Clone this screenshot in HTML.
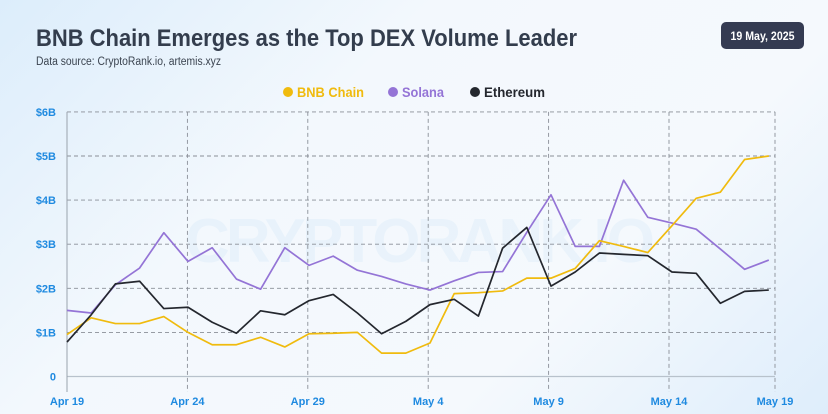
<!DOCTYPE html>
<html><head><meta charset="utf-8"><style>
html,body{margin:0;padding:0;width:828px;height:414px;overflow:hidden;font-family:"Liberation Sans",sans-serif;}
body{background:linear-gradient(135deg,#dcedfb 0%,#f3f8fd 35%,#f5f9fd 70%,#deedfb 100%);}
</style></head><body>
<svg id="chart" width="828" height="414" xmlns="http://www.w3.org/2000/svg" style="position:absolute;left:0;top:0">
<text x="420" y="262" font-size="62" font-weight="bold" fill="#2b8fe0" fill-opacity="0.05" text-anchor="middle" textLength="470">CRYPTORANK.IO</text>
<text x="36" y="46" font-size="24" font-weight="bold" fill="#333d4d" textLength="541" lengthAdjust="spacingAndGlyphs">BNB Chain Emerges as the Top DEX Volume Leader</text>
<text x="36" y="65" font-size="11.5" fill="#3b4450" textLength="185" lengthAdjust="spacingAndGlyphs">Data source: CryptoRank.io, artemis.xyz</text>
<g>
<rect x="721" y="22" width="83" height="27" rx="5" fill="#343b52"/>
<text x="762.5" y="40" font-size="11.5" font-weight="bold" fill="#fff" text-anchor="middle" textLength="64" lengthAdjust="spacingAndGlyphs">19 May, 2025</text>
</g>
<g>
<g><circle cx="288" cy="92" r="5" fill="#f0bb0e"/><text x="297" y="97" font-size="14" font-weight="bold" fill="#f0bb0e" textLength="67" lengthAdjust="spacingAndGlyphs">BNB Chain</text></g>
<g><circle cx="393" cy="92" r="5" fill="#9474d6"/><text x="402" y="97" font-size="14" font-weight="bold" fill="#9474d6" textLength="42" lengthAdjust="spacingAndGlyphs">Solana</text></g>
<g><circle cx="475" cy="92" r="5" fill="#24272e"/><text x="484" y="97" font-size="14" font-weight="bold" fill="#24272e" textLength="61" lengthAdjust="spacingAndGlyphs">Ethereum</text></g>
</g>
<g id="grid"></g>
<g id="axes"></g>
<g id="series"></g>
</svg>
<script>
const dayTicks = [0, 5, 10, 15, 20, 25, 29.3];
const tickLabels = ["Apr 19", "Apr 24", "Apr 29", "May 4", "May 9", "May 14", "May 19"];
const yTicks = [0, 1, 2, 3, 4, 5, 6];
const yLabels = ["0", "$1B", "$2B", "$3B", "$4B", "$5B", "$6B"];
const bnb = [0.95,1.33,1.2,1.2,1.36,1.0,0.72,0.72,0.89,0.67,0.97,0.98,1.0,0.53,0.53,0.76,1.88,1.9,1.94,2.23,2.23,2.45,3.08,2.95,2.81,3.42,4.04,4.18,4.92,5.0];
const sol = [1.5,1.44,2.08,2.46,3.26,2.61,2.92,2.21,1.98,2.92,2.52,2.73,2.41,2.27,2.1,1.96,2.17,2.36,2.38,3.27,4.12,2.95,2.95,4.45,3.61,3.48,3.34,2.89,2.43,2.64];
const eth = [0.78,1.4,2.1,2.16,1.54,1.57,1.23,0.98,1.49,1.4,1.72,1.86,1.44,0.97,1.25,1.63,1.75,1.37,2.91,3.38,2.05,2.37,2.8,2.77,2.74,2.37,2.34,1.66,1.93,1.96];
const NS="http://www.w3.org/2000/svg";
const x0=67, dx=24.2, yBase=376.5, yStep=44.1, xRight=775;
function xs(d){return x0+d*dx;}
function ys(v){return yBase-v*yStep;}
const grid=document.getElementById('grid'), axes=document.getElementById('axes'), series=document.getElementById('series');
yTicks.forEach((t,i)=>{
  if(t>0){const l=document.createElementNS(NS,'line');
  
  
  l.setAttribute('x1',x0);l.setAttribute('x2',xRight);l.setAttribute('y1',ys(t));l.setAttribute('y2',ys(t));
  l.setAttribute('stroke','#8a8f98');l.setAttribute('stroke-dasharray','4,3');l.setAttribute('stroke-width','0.9');grid.appendChild(l);}
  const tx=document.createElementNS(NS,'text');
  
  
  tx.setAttribute('x',56);tx.setAttribute('y',ys(t)+4);tx.setAttribute('text-anchor','end');
  tx.setAttribute('font-size','11');tx.setAttribute('font-weight','bold');tx.setAttribute('fill','#1f8ae0');
  tx.textContent=yLabels[i];axes.appendChild(tx);
});
dayTicks.forEach((d,i)=>{
  const xx=(i===dayTicks.length-1)?xRight:xs(d)-(i>0?i*0.6:0);
  if(i>0){const l=document.createElementNS(NS,'line');
  
  
  l.setAttribute('x1',xx);l.setAttribute('x2',xx);l.setAttribute('y1',ys(6));l.setAttribute('y2',392);
  l.setAttribute('stroke','#8a8f98');l.setAttribute('stroke-dasharray','4,3');l.setAttribute('stroke-width','0.9');grid.appendChild(l);}
  const tx=document.createElementNS(NS,'text');
  
  
  tx.setAttribute('x',xx);tx.setAttribute('y',405);tx.setAttribute('text-anchor','middle');
  tx.setAttribute('font-size','11');tx.setAttribute('font-weight','bold');tx.setAttribute('fill','#1f8ae0');
  tx.textContent=tickLabels[i];axes.appendChild(tx);
});
const base=document.createElementNS(NS,'line');


base.setAttribute('x1',x0);base.setAttribute('x2',xRight);base.setAttribute('y1',yBase);base.setAttribute('y2',yBase);
base.setAttribute('stroke','#b8c2cc');base.setAttribute('stroke-width','1.2');axes.appendChild(base);
const vax=document.createElementNS(NS,'line');


vax.setAttribute('x1',x0);vax.setAttribute('x2',x0);vax.setAttribute('y1',ys(6));vax.setAttribute('y2',392);
vax.setAttribute('stroke','#9aa3ad');vax.setAttribute('stroke-width','1');axes.appendChild(vax);
function draw(arr,color,name){
  const p=document.createElementNS(NS,'polyline');
  
  
  p.setAttribute('points',arr.map((v,i)=>xs(i)+','+ys(v)).join(' '));
  p.setAttribute('fill','none');p.setAttribute('stroke',color);p.setAttribute('stroke-width','1.7');p.setAttribute('stroke-linejoin','round');
  series.appendChild(p);
}
draw(sol,'#9474d6','solana-line');
draw(bnb,'#f0bb0e','bnb-line');
draw(eth,'#24272e','ethereum-line');
</script>
</body></html>
